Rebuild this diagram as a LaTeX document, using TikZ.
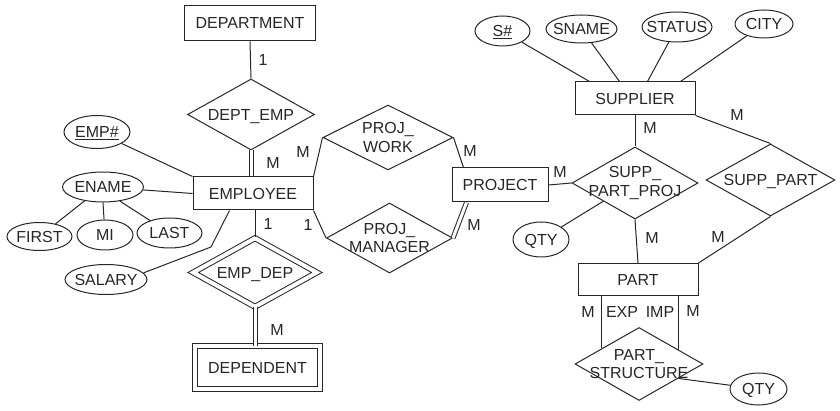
\documentclass[tikz,border=0pt]{standalone}
\usepackage{fontspec}
\setmainfont{Liberation Sans}
\usetikzlibrary{shapes.geometric,calc}
\definecolor{ink}{HTML}{262626}
\newcommand{\ztext}[1]{\makebox[0pt]{\raisebox{0pt}[\height][0pt]{#1}}}
\newcommand{\ztwo}[2]{\makebox[0pt]{\vbox{\halign{\hfil##\hfil\cr #1\cr #2\cr}}}}
\tikzset{
  base/.style={draw=ink, line width=1pt, text=ink, inner sep=0pt, font=\fontsize{16}{18.5}\selectfont},
  ent/.style={base, rectangle},
  attr/.style={base, ellipse},
  rel/.style={base, diamond, aspect=1.8},
  conn/.style={draw=ink, line width=1pt},
  dconn/.style={draw=ink, line width=1pt, double, double distance=3pt},
  card/.style={text=ink, font=\fontsize{16}{18}\selectfont, inner sep=0pt}
}
\begin{document}
\begin{tikzpicture}[x=1pt,y=-1pt]
\useasboundingbox (0,0) rectangle (840,411);
% entities
\node[ent, minimum width=131pt, minimum height=35pt] (dept) at (250,23.5) {DEPARTMENT};
\node[ent, minimum width=120pt, minimum height=33pt] (emp) at (253,193.5) {EMPLOYEE};
\node[ent, minimum width=125pt, minimum height=43pt, double, double distance=4pt] (dependent) at (257.5,367.5) {DEPENDENT};
\node[ent, minimum width=96pt, minimum height=34pt] (project) at (500,185) {PROJECT};
\node[ent, minimum width=120pt, minimum height=33pt] (supplier) at (635,98.5) {SUPPLIER};
\node[ent, minimum width=120pt, minimum height=32pt] (part) at (638,279.5) {PART};
% relationships
\node[rel, minimum width=127pt, minimum height=71pt] (deptemp) at (251,114.5) {\ztext{DEPT\_EMP}};
\node[rel, minimum width=124pt, minimum height=69pt, double, double distance=4pt] (empdep) at (255,272.5) {\ztext{EMP\_DEP}};
\node[rel, minimum width=130pt, minimum height=65pt] (projwork) at (388,137.5) {\ztwo{PROJ\_}{WORK}};
\node[rel, minimum width=126pt, minimum height=70pt] (projmgr) at (389.5,238) {\ztwo{PROJ\_}{MANAGER}};
\node[rel, minimum width=126pt, minimum height=72pt] (spp) at (635,183) {\ztwo{SUPP\_}{PART\_PROJ}};
\node[rel, minimum width=129pt, minimum height=72pt] (supppart) at (770.5,180) {\ztext{SUPP\_PART}};
\node[rel, minimum width=128pt, minimum height=73pt] (ps) at (639,364) {\ztwo{PART\_}{STRUCTURE}};
% attributes
\node[attr, minimum width=66pt, minimum height=33pt] (empno) at (97,132) {\ztext{\underline{EMP\#}}};
\node[attr, minimum width=81pt, minimum height=30pt] (ename) at (103,187) {\ztext{ENAME}};
\node[attr, minimum width=65pt, minimum height=28pt] (first) at (39.5,236.5) {\ztext{FIRST}};
\node[attr, minimum width=56pt, minimum height=30pt] (mi) at (105,235) {\ztext{MI}};
\node[attr, minimum width=65pt, minimum height=30pt] (last) at (169.5,233) {\ztext{LAST}};
\node[attr, minimum width=82pt, minimum height=30pt] (salary) at (106,279.5) {\ztext{SALARY}};
\node[attr, minimum width=55pt, minimum height=30pt] (sno) at (502.5,31) {\ztext{\underline{S\#}}};
\node[attr, minimum width=71pt, minimum height=28pt] (sname) at (581.5,29) {\ztext{SNAME}};
\node[attr, minimum width=70pt, minimum height=30pt] (status) at (677,27) {\ztext{STATUS}};
\node[attr, minimum width=58pt, minimum height=28pt] (city) at (764,24) {\ztext{CITY}};
\node[attr, minimum width=56pt, minimum height=35pt] (qtya) at (541,239.5) {\ztext{QTY}};
\node[attr, minimum width=57pt, minimum height=32pt] (qtyb) at (758.5,389) {\ztext{QTY}};
% connectors: employee side
\draw[conn] (dept.south) -- (deptemp.north);
\draw[dconn] (deptemp.south) -- (deptemp.south |- emp.north);
\draw[conn] (empno) -- (emp.north west);
\draw[conn] (ename) -- (emp.west);
\draw[conn] (ename.217) -- (first);
\draw[conn] (ename.south) -- (mi);
\draw[conn] (ename.-40) -- (last);
\coordinate (salbend) at (211,247);
\draw[conn] (salary.10) -- (salbend) -- ([xshift=37pt]emp.south west);
\draw[conn] (empdep.north |- emp.south) -- (empdep.north);
\draw[dconn] (empdep.south) -- (empdep.south |- dependent.north);
\draw[conn] (emp.north east) -- (projwork.west);
\draw[conn] (emp.south east) -- (projmgr.west);
\draw[conn] (projwork.east) -- ([xshift=12pt]project.north west);
\draw[dconn] (projmgr.east) -- ([xshift=15pt]project.south west);
\draw[conn] (project.east) -- (spp.west);
% supplier side
\draw[conn] (sno) -- ([xshift=15pt]supplier.north west);
\draw[conn] (sname) -- ([xshift=45pt]supplier.north west);
\draw[conn] (status) -- ([xshift=73pt]supplier.north west);
\draw[conn] (city) -- ([xshift=-15pt]supplier.north east);
\draw[conn] (supplier.south) -- (spp.north);
\draw[conn] (supplier.south east) -- (supppart.north);
\draw[conn] (supppart.south) -- (part.north east);
\draw[conn] (spp.south) -- (part.north);
\draw[conn] (qtya) -- (spp.south west);
\coordinate (psl) at ($(ps.west)!0.42!(ps.north)$);
\coordinate (psr) at ($(ps.north)!0.61!(ps.east)$);
\draw[conn] (psl |- part.south) -- (psl);
\draw[conn] (psr |- part.south) -- (psr);
\draw[conn] ($(ps.east)!0.39!(ps.south)$) -- (qtyb);
% cardinality labels
\node[card] (c1) at (263,60) {1};
\node[card] (c2) at (273,163) {M};
\node[card] (c3) at (303,152) {M};
\node[card] (c4) at (268,224) {1};
\node[card] (c5) at (308,225) {1};
\node[card] (c6) at (277,330) {M};
\node[card] (c7) at (470,151) {M};
\node[card] (c8) at (474,225) {M};
\node[card] (c9) at (560,172) {M};
\node[card] (c10) at (650,128) {M};
\node[card] (c11) at (737,115) {M};
\node[card] (c12) at (652,238) {M};
\node[card] (c13) at (718,237) {M};
\node[card] (c14) at (588,312) {M};
\node[card] (c15) at (622,312) {EXP};
\node[card] (c16) at (660,312) {IMP};
\node[card] (c17) at (693,311) {M};
\end{tikzpicture}
\end{document}
